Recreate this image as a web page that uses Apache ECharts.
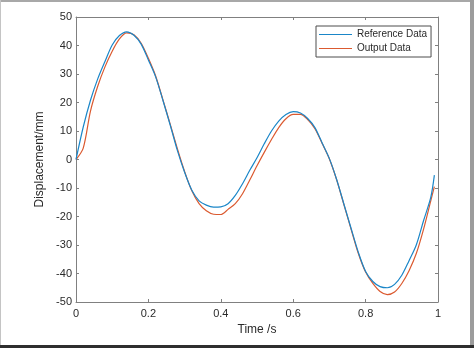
<!DOCTYPE html>
<html>
<head>
<meta charset="utf-8">
<script src="https://cdn.jsdelivr.net/npm/echarts@6/dist/echarts.min.js"></script>
<style>
  html, body { margin: 0; padding: 0; background: #fff; }
  #chart { width: 474px; height: 348px; }
</style>
</head>
<body>
<div id="chart"></div>
<script>
// Sample times (s)
const times = [
  0.00, 0.02, 0.04, 0.06, 0.08, 0.10, 0.12, 0.14, 0.16, 0.18,
  0.20, 0.22, 0.24, 0.26, 0.28, 0.30, 0.32, 0.34, 0.36, 0.38,
  0.40, 0.42, 0.44, 0.46, 0.48, 0.50, 0.52, 0.54, 0.56, 0.58,
  0.60, 0.62, 0.64, 0.66, 0.68, 0.70, 0.72, 0.74, 0.76, 0.78,
  0.80, 0.82, 0.84, 0.86, 0.88, 0.90, 0.92, 0.94, 0.96, 0.98, 0.99
];

// Reference displacement (mm)
const referenceData = [
  0, 11.4, 20.8, 28.3, 34.4, 40.2, 43.5, 44.8, 43.6, 40.5,
  34.9, 29.0, 20.8, 12.2, 3.2, -4.5, -10.8, -14.5, -16.0, -16.7,
  -16.6, -15.5, -12.6, -8.5, -3.8, 0.6, 5.5, 10.0, 13.5, 15.8,
  16.8, 16.3, 14.4, 11.2, 5.8, 0.3, -7.0, -15.6, -24.2, -32.6,
  -39.3, -42.8, -44.6, -45.0, -43.8, -40.6, -35.5, -30.0, -21.5, -13.3, -5.5
];

// Output displacement (mm)
const outputData = [
  0, 4.0, 17.0, 25.7, 32.5, 38.0, 42.3, 44.4, 43.8, 40.8,
  35.5, 29.3, 21.0, 12.5, 3.8, -4.2, -11.0, -15.5, -18.0, -19.2,
  -19.3, -17.5, -15.5, -12.0, -7.2, -2.2, 2.5, 7.0, 11.2, 14.3,
  15.8, 15.8, 14.0, 10.8, 5.6, 0.2, -7.1, -15.8, -24.5, -33.0,
  -39.5, -43.5, -46.3, -47.4, -46.5, -43.5, -39.0, -33.0, -24.5, -14.5, -9.5
];

const seriesNames = ['Reference Data', 'Output Data'];
const seriesColors = ['#1a86c8', '#db5a30'];
const xTicks = { min: 0, max: 1, interval: 0.2 };
const yTicks = { min: -50, max: 50, interval: 10 };

const axisGray = '#808080';
const textColor = '#2a2a2a';
const font = 'Liberation Sans, Arial, Helvetica, sans-serif';

const pairs = (vals) => times.map((t, i) => [t, vals[i]]);

const chart = echarts.init(document.getElementById('chart'), null, { renderer: 'canvas' });

const tickInside = { show: true, inside: true, length: 3, lineStyle: { color: axisGray, width: 1 } };
const lineAx = { show: true, onZero: false, lineStyle: { color: axisGray, width: 1 } };

chart.setOption({
  animation: false,
  backgroundColor: '#fff',
  grid: { left: 76, right: 36, top: 17, bottom: 46, containLabel: false },
  legend: {
    data: seriesNames,
    orient: 'vertical',
    left: 316,
    top: 26,
    icon: 'rect',
    itemWidth: 33,
    itemHeight: 1.2,
    itemGap: 1,
    padding: [2, 4, 2, 3],
    backgroundColor: '#fff',
    borderColor: '#4d4d4d',
    borderWidth: 1,
    textStyle: { fontFamily: font, fontSize: 10, color: textColor, lineHeight: 13 }
  },
  xAxis: [
    {
      type: 'value', position: 'bottom',
      min: xTicks.min, max: xTicks.max, interval: xTicks.interval,
      name: 'Time /s', nameLocation: 'middle', nameGap: 20,
      nameTextStyle: { fontFamily: font, fontSize: 12, color: textColor },
      axisLine: lineAx, axisTick: tickInside,
      axisLabel: { fontFamily: font, fontSize: 11, color: textColor, margin: 6 },
      splitLine: { show: false }
    },
    {
      type: 'value', position: 'top',
      min: xTicks.min, max: xTicks.max, interval: xTicks.interval,
      axisLine: lineAx, axisTick: tickInside,
      axisLabel: { show: false }, splitLine: { show: false }
    }
  ],
  yAxis: [
    {
      type: 'value', position: 'left',
      min: yTicks.min, max: yTicks.max, interval: yTicks.interval,
      name: 'Displacement/mm', nameLocation: 'middle', nameGap: 30,
      nameTextStyle: { fontFamily: font, fontSize: 12, color: textColor },
      axisLine: lineAx, axisTick: tickInside,
      axisLabel: { fontFamily: font, fontSize: 11, color: textColor, margin: 4 },
      splitLine: { show: false }
    },
    {
      type: 'value', position: 'right',
      min: yTicks.min, max: yTicks.max, interval: yTicks.interval,
      axisLine: lineAx, axisTick: tickInside,
      axisLabel: { show: false }, splitLine: { show: false }
    }
  ],
  series: [
    {
      name: seriesNames[0], type: 'line', data: pairs(referenceData),
      symbol: 'none', smooth: 0.3,
      lineStyle: { color: seriesColors[0], width: 1.2 }, itemStyle: { color: seriesColors[0] },
      z: 3
    },
    {
      name: seriesNames[1], type: 'line', data: pairs(outputData),
      symbol: 'none', smooth: 0.3,
      lineStyle: { color: seriesColors[1], width: 1.2 }, itemStyle: { color: seriesColors[1] },
      z: 2
    }
  ],
  graphic: [
    { type: 'rect', shape: { x: 0, y: 0, width: 474, height: 2 }, style: { fill: '#a8a8a8' }, silent: true },
    { type: 'rect', shape: { x: 0, y: 0, width: 1, height: 348 }, style: { fill: '#c4c4c4' }, silent: true },
    { type: 'rect', shape: { x: 470, y: 0, width: 4, height: 348 }, style: { fill: '#9c9c9c' }, silent: true },
    { type: 'rect', shape: { x: 0, y: 345, width: 474, height: 3 }, style: { fill: '#2e2e2e' }, silent: true }
  ]
});
</script>
</body>
</html>
